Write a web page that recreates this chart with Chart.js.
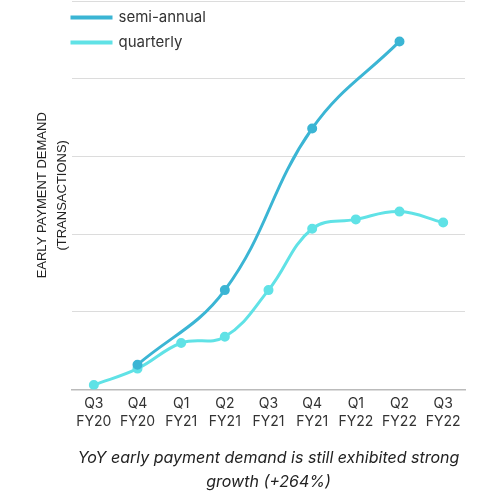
<!DOCTYPE html>
<html lang="en">
<head>
    <meta charset="UTF-8">
    <title>Early Payment Demand</title>
    <script src="https://cdn.jsdelivr.net/npm/chart.js"></script>
    <style>
        html, body { margin: 0; padding: 0; background: #fff; }
        #wrap { width: 500px; height: 500px; }
    </style>
</head>
<body>
    <div id="wrap"><canvas id="chart"></canvas></div>

    <script>
        // quarters, two-line labels
        const quarters = [
            ['Q3', 'FY20'], ['Q4', 'FY20'], ['Q1', 'FY21'], ['Q2', 'FY21'], ['Q3', 'FY21'],
            ['Q4', 'FY21'], ['Q1', 'FY22'], ['Q2', 'FY22'], ['Q3', 'FY22']
        ];
        // semi-annual only reported every other quarter
        const semiAnnual = [null, 0.32, null, 1.28, null, 3.36, null, 4.48, null];
        const quarterly = [0.06, 0.27, 0.60, 0.68, 1.28, 2.07, 2.19, 2.29, 2.15];

        const semiColor = '#3bb5d4';
        const quarterColor = '#60e2e6';

        // legend sits flush with the plot's left edge (drop the label padding)
        const legendFlush = {
            id: 'legendFlush',
            beforeDraw(chart) {
                const pad = chart.options.plugins.legend.labels.padding;
                chart.legend.left = chart.chartArea.left - pad;
            }
        };

        let ctx = document.getElementById('chart').getContext('2d');
        let chart = new Chart(ctx, {
            type: 'line',
            data: {
                labels: quarters,
                datasets: [{
                    label: 'semi-annual',
                    data: semiAnnual,
                    borderColor: semiColor,
                    backgroundColor: semiColor,
                    pointBackgroundColor: semiColor,
                    borderWidth: 3,
                    pointRadius: 3.5,
                    tension: 0.4,
                    spanGaps: true
                }, {
                    label: 'quarterly',
                    data: quarterly,
                    borderColor: quarterColor,
                    backgroundColor: quarterColor,
                    pointBackgroundColor: quarterColor,
                    borderWidth: 3,
                    pointRadius: 3.5,
                    tension: 0.4
                }]
            },
            options: {
                responsive: true,
                maintainAspectRatio: false,
                animation: false,
                layout: { autoPadding: false, padding: { top: 1, right: 35, left: 33, bottom: 2 } },
                plugins: {
                    legend: {
                        position: 'chartArea',
                        align: 'start',
                        labels: {
                            boxWidth: 39,
                            boxHeight: 1,
                            padding: 10,
                            color: '#333',
                            font: { family: 'Inter', size: 15 }
                        }
                    },
                    tooltip: { enabled: false }
                },
                scales: {
                    x: {
                        offset: true,
                        grid: { display: false, drawTicks: false },
                        border: { color: '#bbb', width: 1.5 },
                        ticks: {
                            color: '#333',
                            padding: 5,
                            font: { family: 'Inter', size: 14, lineHeight: 1.3 }
                        },
                        title: {
                            display: true,
                            text: ['YoY early payment demand is still exhibited strong', 'growth (+264%)'],
                            color: '#222',
                            padding: { top: 10 },
                            font: { family: 'Inter', size: 16, style: 'italic', lineHeight: 1.5 }
                        }
                    },
                    y: {
                        min: 0,
                        max: 5,
                        ticks: { display: false, stepSize: 1 },
                        grid: { color: '#dcdcdc', drawTicks: false },
                        border: { display: false },
                        title: {
                            display: true,
                            text: ['EARLY PAYMENT DEMAND', '(TRANSACTIONS)'],
                            color: '#222',
                            padding: 0,
                            font: { family: 'Liberation Sans', size: 13, lineHeight: 1.5 }
                        }
                    }
                }
            },
            plugins: [legendFlush]
        });
    </script>
</body>
</html>
